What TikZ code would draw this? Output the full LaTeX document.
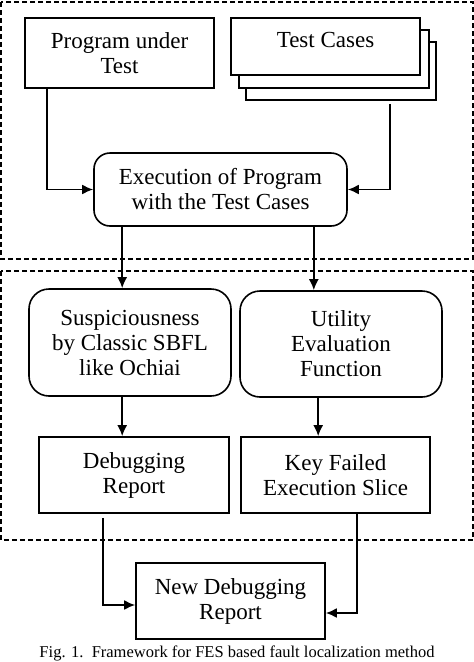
\documentclass[tikz,border=0pt]{standalone}
\usepackage{fontspec}
\setmainfont{Liberation Serif}
\usepackage{tikz}
\usetikzlibrary{shapes.geometric, arrows.meta}
\tikzstyle{process} = [rectangle, minimum width=189pt, minimum height=76pt, inner sep=0pt, align=center, draw=black, line width=1.6pt, fill=white, font=\fontsize{23}{25}\selectfont]
\tikzstyle{roundproc} = [process, rounded corners=16pt]
\tikzstyle{group} = [draw, line width=1.4pt, dash pattern=on 5pt off 3pt]
\tikzstyle{arrow} = [line width=1.9pt,->,>={Latex[length=11pt,width=10pt]}]

\begin{document}
\begin{tikzpicture}[x=1pt, y=-1pt]
	
	\useasboundingbox (0,0) rectangle (474,662);
	
	\draw [group] (1,2) rectangle (473,259);
	\draw [group] (1,271) rectangle (473,540);
	
	\node (p1) [process, minimum height=70pt] at (119.5,53) {Program under\\Test};
	\node (p2c) [process, minimum width=190pt, minimum height=58pt] at (341,71) {};
	\node (p2b) [process, minimum width=190pt, minimum height=58pt] at (334,59) {};
	\node (p2) [process, minimum height=57pt, text depth=14pt] at (325.5,46.5) {Test Cases};
	
	\node (p3) [roundproc, minimum width=253pt, minimum height=73pt] at (220.5,189.5) {Execution of Program\\with the Test Cases};
	
	\draw [arrow] ([xshift=23pt]p1.south west) |- (p3.west);
	\draw [arrow] ([xshift=-47pt,yshift=-3pt]p2c.south east) |- (p3.east);
	
	\node (p4) [roundproc, rounded corners=20pt, minimum width=202pt, minimum height=107pt] at (130,342.5) {Suspiciousness\\by Classic SBFL\\like Ochiai};
	\node (p5) [roundproc, rounded corners=20pt, minimum width=202pt, minimum height=106pt] at (341,344) {Utility\\Evaluation\\Function};
	
	\draw [arrow] ([xshift=29pt]p3.south west) -- ([xshift=29pt]p3.south west |- p4.north);
	\draw [arrow] ([xshift=-34pt]p3.south east) -- ([xshift=-34pt]p3.south east |- p5.north);
	
	\node (p6) [process, minimum width=190pt] at (134,475) {Debugging\\Report};
	\node (p7) [process] at (335.5,475) {Key Failed\\Execution Slice};
	
	\draw [arrow] ([xshift=94pt]p4.south west) -- ([xshift=94pt]p4.south west |- p6.north);
	\draw [arrow] ([xshift=79pt]p5.south west) -- ([xshift=79pt]p5.south west |- p7.north);
	
	\node (p8) [process] at (230.5,601) {New Debugging\\Report};
	
	\draw [arrow] ([xshift=65pt,yshift=-4pt]p6.south west) |- ([yshift=-4pt]p8.west);
	\draw [arrow] ([xshift=117pt]p7.south west) |- ([yshift=-12pt]p8.east);
	
	\node (cap) at (237,653) {\fontsize{16.5}{18}\selectfont Fig. 1.\ \ Framework for FES based fault localization method};
	
\end{tikzpicture}
\end{document}
